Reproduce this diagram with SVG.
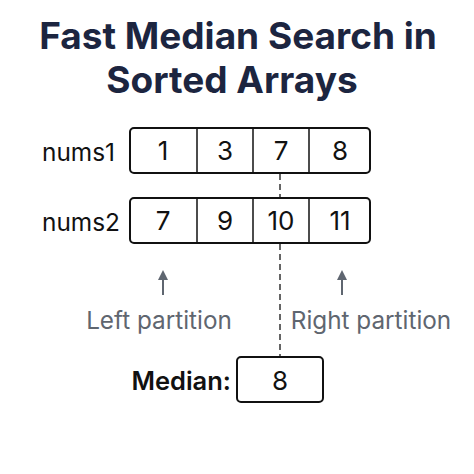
<svg xmlns="http://www.w3.org/2000/svg" width="474" height="474" viewBox="0 0 474 474">
<defs>
<style>
.title{font-family:Inter,"Liberation Sans",sans-serif;font-weight:700;font-size:37px;fill:#1c2540;text-anchor:middle}
.lbl{font-family:Inter,"Liberation Sans",sans-serif;font-size:24.4px;fill:#111;}
.num{font-family:Inter,"Liberation Sans",sans-serif;font-size:26px;fill:#111;text-anchor:middle}
.part{font-family:Inter,"Liberation Sans",sans-serif;font-size:24.3px;fill:#5f6670;text-anchor:middle}
.box{fill:#fff;stroke:#111;stroke-width:2}
.div{stroke:#111;stroke-width:1.5}
.dash{stroke:#333;stroke-width:1.5;stroke-dasharray:6,4;fill:none}
.arr{stroke:#5f6670;stroke-width:2;fill:none}
</style>
<marker id="ah" viewBox="0 0 10 10" refX="5" refY="5" markerWidth="5" markerHeight="5" orient="auto-start-reverse">
<path d="M0,0 L10,5 L0,10 z" fill="#5f6670"/>
</marker>
</defs>
<rect width="474" height="474" fill="#fff"/>
<g id="title">
<text class="title" x="238" y="49">Fast Median Search in</text>
<text class="title" x="232" y="93">Sorted Arrays</text>
</g>
<g id="connectors">
<line class="dash" x1="280" y1="174" x2="280" y2="198"/>
<line class="dash" x1="280" y1="244" x2="280" y2="357"/>
<line class="arr" x1="163" y1="295" x2="163" y2="275" marker-end="url(#ah)"/>
<line class="arr" x1="342" y1="295" x2="342" y2="275" marker-end="url(#ah)"/>
</g>
<g id="nums1">
<text class="lbl" x="42" y="161">nums1</text>
<rect class="box" x="130" y="128" width="240" height="45" rx="4"/>
<line class="div" x1="197" y1="128" x2="197" y2="173"/>
<line class="div" x1="253" y1="128" x2="253" y2="173"/>
<line class="div" x1="309" y1="128" x2="309" y2="173"/>
<text class="num" x="163" y="160">1</text>
<text class="num" x="225" y="160">3</text>
<text class="num" x="281" y="160">7</text>
<text class="num" x="340" y="160">8</text>
</g>
<g id="nums2">
<text class="lbl" x="42" y="231">nums2</text>
<rect class="box" x="130" y="198" width="240" height="45" rx="4"/>
<line class="div" x1="197" y1="198" x2="197" y2="243"/>
<line class="div" x1="253" y1="198" x2="253" y2="243"/>
<line class="div" x1="309" y1="198" x2="309" y2="243"/>
<text class="num" x="163" y="230">7</text>
<text class="num" x="225" y="230">9</text>
<text class="num" x="281" y="230">10</text>
<text class="num" x="340" y="230">11</text>
</g>
<g id="left-partition">
<text class="part" x="159" y="329">Left partition</text>
</g>
<g id="right-partition">
<text class="part" x="371" y="329">Right partition</text>
</g>
<g id="median">
<text class="lbl" x="231" y="390" text-anchor="end" style="font-weight:600;font-size:25.5px">Median:</text>
<rect class="box" x="237" y="357" width="86" height="45" rx="4"/>
<text class="num" x="280" y="390">8</text>
</g>
</svg>
